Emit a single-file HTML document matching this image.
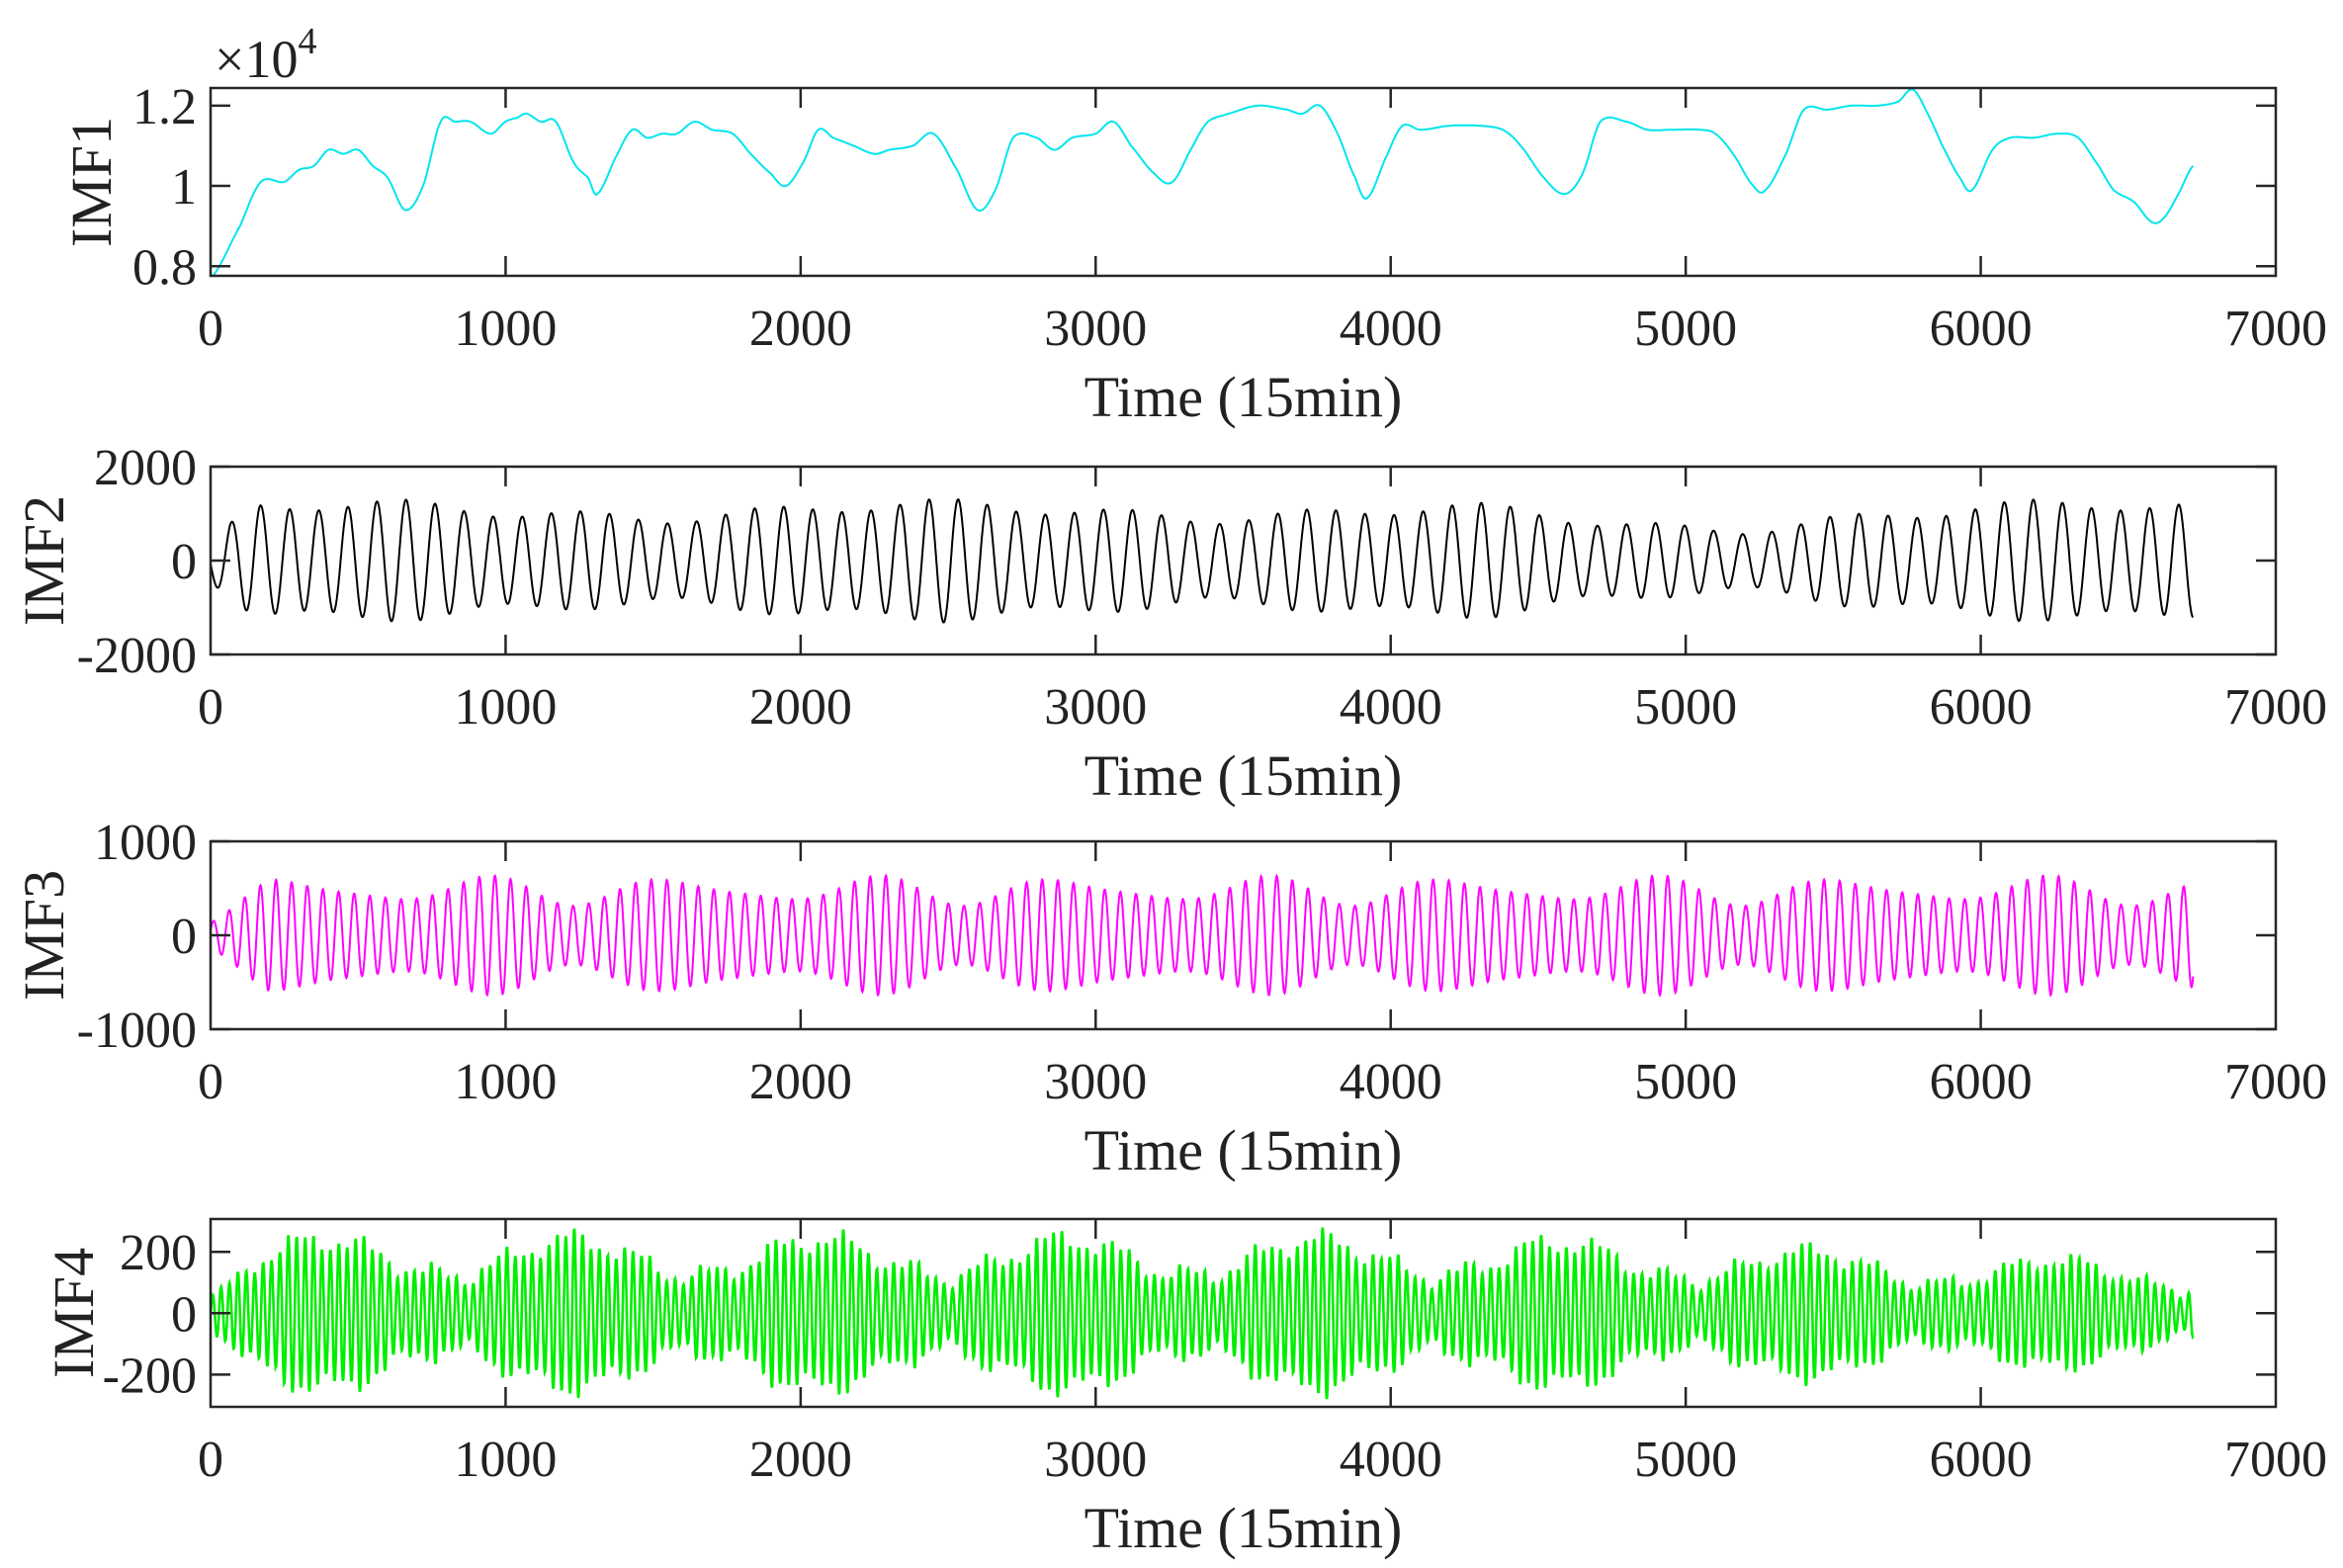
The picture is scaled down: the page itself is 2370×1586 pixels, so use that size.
<!DOCTYPE html>
<html><head><meta charset="utf-8"><style>
html,body{margin:0;padding:0;background:#fff;}
svg{display:block;font-family:"Liberation Serif",serif;}
</style></head><body>
<svg id="s" width="2370" height="1586" viewBox="0 0 2370 1586" xmlns="http://www.w3.org/2000/svg"></svg>
<script>
const S=document.getElementById('s');
const L=213,R=2302,W=R-L,H=190;
const tops=[89,472,851,1233];
const ylims=[[0.776,1.244],[-2000,2000],[-1000,1000],[-305,307]];
const yt=[[[0.8,'0.8'],[1,'1'],[1.2,'1.2']],[[-2000,'-2000'],[0,'0'],[2000,'2000']],[[-1000,'-1000'],[0,'0'],[1000,'1000']],[[-200,'-200'],[0,'0'],[200,'200']]];
const names=['IMF1','IMF2','IMF3','IMF4'];
const cols=['#00e5ee','#000000','#ff00ff','#00ee00'];
let out='';
function X(t){return L+t/7000*W;}
const kp=[[0,.77],[100,.9],[170,1.01],[250,1.01],[300,1.04],[350,1.05],[400,1.09],[450,1.08],[500,1.09],[550,1.05],[600,1.02],[660,.94],[720,1.0],[780,1.16],[830,1.16],[880,1.16],[950,1.13],[1000,1.16],[1040,1.17],[1070,1.18],[1120,1.16],[1170,1.16],[1230,1.06],[1280,1.02],[1310,.98],[1380,1.08],[1430,1.14],[1480,1.12],[1530,1.13],[1580,1.13],[1640,1.16],[1700,1.14],[1770,1.13],[1830,1.08],[1900,1.03],[1950,1.0],[2010,1.06],[2060,1.14],[2110,1.12],[2180,1.1],[2250,1.08],[2300,1.09],[2380,1.1],[2450,1.13],[2530,1.04],[2600,0.94],[2660,0.99],[2720,1.12],[2800,1.12],[2860,1.09],[2920,1.12],[3000,1.13],[3060,1.16],[3120,1.1],[3200,1.03],[3260,1.01],[3330,1.1],[3380,1.16],[3450,1.18],[3550,1.2],[3650,1.19],[3700,1.18],[3760,1.2],[3820,1.13],[3880,1.02],[3920,.97],[3990,1.08],[4040,1.15],[4100,1.14],[4200,1.15],[4300,1.15],[4380,1.14],[4440,1.1],[4520,1.02],[4590,.98],[4650,1.03],[4710,1.16],[4800,1.16],[4870,1.14],[4950,1.14],[5050,1.14],[5100,1.13],[5160,1.08],[5230,1.0],[5270,.99],[5340,1.08],[5400,1.19],[5480,1.19],[5560,1.2],[5650,1.2],[5720,1.21],[5770,1.24],[5820,1.18],[5870,1.1],[5930,1.02],[5970,.99],[6040,1.09],[6100,1.12],[6180,1.12],[6260,1.13],[6330,1.12],[6400,1.05],[6450,.99],[6520,.96],[6580,.91],[6620,.92],[6670,.98],[6720,1.05]];
function imf1(t){
  let i=0;while(i<kp.length-2&&kp[i+1][0]<t)i++;
  const p0=kp[Math.max(i-1,0)],p1=kp[i],p2=kp[i+1],p3=kp[Math.min(i+2,kp.length-1)];
  const u=(t-p1[0])/(p2[0]-p1[0]);
  const m1=(p2[1]-p0[1])/2,m2=(p3[1]-p1[1])/2;
  const u2=u*u,u3=u2*u;
  return (2*u3-3*u2+1)*p1[1]+(u3-2*u2+u)*m1+(-2*u3+3*u2)*p2[1]+(u3-u2)*m2;
}
function imf2(t){
  let a=1050+150*Math.sin(t/310)+120*Math.sin(t/97+1)-250*Math.exp(-Math.pow((t-4900)/500,2))*1.4;
  if(t<150)a*=0.4+0.6*t/150;
  return a*Math.sin(2*Math.PI*t/98.5+3.3);
}
function imf3(t){
  let a=480+120*Math.sin(2*Math.PI*t/660-0.9)+50*Math.sin(t/70);
  if(t<200)a*=0.35+0.65*t/200;
  return a*Math.sin(2*Math.PI*t/53+0.4);
}
function imf4(t){
  let env=180+60*Math.sin(2*Math.PI*t/840-1.3)+30*Math.sin(t/37)+15*Math.sin(t/13);
  env*=1-0.35*Math.max(0,(t-4300)/2400);
  if(t<150)env*=0.4+0.6*t/150;
  return env*Math.sin(2*Math.PI*t/28.5);
}
const fns=[imf1,imf2,imf3,imf4];
const sw=[2,2,2,2.6];
for(let k=0;k<4;k++){
  const T=tops[k],B=T+H,[y0,y1]=ylims[k];
  const Y=v=>B-(v-y0)/(y1-y0)*H;
  out+=`<clipPath id="c${k}"><rect x="${L}" y="${T}" width="${W}" height="${H}"/></clipPath>`;
  let d='';
  for(let t=0;t<=6720;t+=1.5){d+=(t?'L':'M')+X(t).toFixed(1)+','+Y(fns[k](t)).toFixed(1);}
  out+=`<path d="${d}" fill="none" stroke="${cols[k]}" stroke-width="${sw[k]}" clip-path="url(#c${k})"/>`;
  out+=`<rect x="${L}" y="${T}" width="${W}" height="${H}" fill="none" stroke="#262626" stroke-width="2.5"/>`;
  for(let x=0;x<=7000;x+=1000){
    const px=X(x);
    if(x>0&&x<7000){out+=`<line x1="${px}" y1="${T}" x2="${px}" y2="${T+20}" stroke="#262626" stroke-width="2.5"/><line x1="${px}" y1="${B}" x2="${px}" y2="${B-20}" stroke="#262626" stroke-width="2.5"/>`;}
    out+=`<text x="${px}" y="${B+70}" font-size="52" text-anchor="middle" fill="#222">${x}</text>`;
  }
  for(const [v,lab] of yt[k]){
    const py=Y(v);
    out+=`<line x1="${L}" y1="${py}" x2="${L+20}" y2="${py}" stroke="#262626" stroke-width="2.5"/><line x1="${R}" y1="${py}" x2="${R-20}" y2="${py}" stroke="#262626" stroke-width="2.5"/>`;
    out+=`<text x="${L-14}" y="${py+18}" font-size="52" text-anchor="end" fill="#222">${lab}</text>`;
  }
  out+=`<text x="${(L+R)/2}" y="${B+142}" font-size="58" text-anchor="middle" fill="#222">Time (15min)</text>`;
  const lx=k==0?92:(k==3?74:44);
  out+=`<text transform="translate(${lx+20},${T+H/2}) rotate(-90)" font-size="58" text-anchor="middle" fill="#222">${names[k]}</text>`;
}
out+=`<text x="217" y="78" font-size="54" fill="#222">×10<tspan font-size="38" dy="-24">4</tspan></text>`;
S.innerHTML=out;
</script>
</body></html>
